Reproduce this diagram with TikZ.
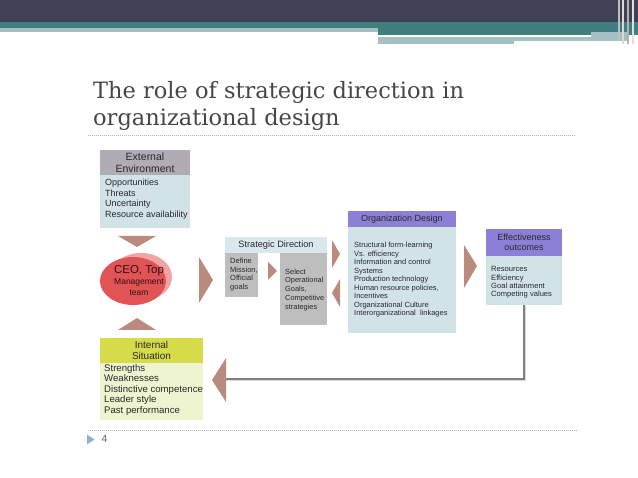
\documentclass[tikz,border=0pt]{standalone}
\usepackage{fontspec}
\setmainfont{Liberation Sans}
\newfontfamily\titlefont{DejaVu Serif}
\definecolor{topdark}{RGB}{64,65,84}
\definecolor{tealc}{RGB}{65,126,128}
\definecolor{lteal}{RGB}{165,192,195}
\definecolor{arrowc}{RGB}{185,138,125}
\definecolor{envhead}{RGB}{176,172,180}
\definecolor{ltblue}{RGB}{210,227,232}
\definecolor{inthead}{RGB}{214,219,74}
\definecolor{intbody}{RGB}{238,243,208}
\definecolor{sdhead}{RGB}{218,232,238}
\definecolor{sdgray}{RGB}{190,190,190}
\definecolor{purp}{RGB}{140,128,214}
\definecolor{ceodark}{RGB}{224,84,86}
\definecolor{ceolight}{RGB}{242,163,163}
\definecolor{titlec}{RGB}{70,70,70}
\definecolor{linec}{RGB}{128,128,128}
\definecolor{txtc}{RGB}{40,40,40}
\definecolor{markc}{RGB}{143,179,207}
\begin{document}
\begin{tikzpicture}[x=1pt,y=-1pt,
  panel/.style={inner sep=0pt, outer sep=0pt, anchor=north west, draw=none},
  bodytxt/.style={inner sep=0pt, anchor=north west, align=left, text=txtc},
  hdrtxt/.style={inner sep=0pt, align=center, text=txtc},
  arrowshape/.style={fill=arrowc, draw=none},
  fbline/.style={draw=linec, line width=1.6pt},
  titletxt/.style={inner sep=0pt, anchor=base west, text=titlec, font=\titlefont\fontsize{22.5}{27}\selectfont},
  sepline/.style={draw=black!30, line width=0.6pt, dash pattern=on 0.8pt off 1.2pt}]
\useasboundingbox (0,0) rectangle (638,478);
% top band
\fill[white] (0,0) rectangle (638,478);
\fill[topdark] (0,0) rectangle (638,22);
\fill[tealc] (0,22) rectangle (638,28.5);
\fill[lteal] (0,28.5) rectangle (378,32);
\fill[tealc] (378,28.5) rectangle (638,35);
\fill[lteal] (378,37.5) rectangle (591,41);
\fill[lteal] (378,41) rectangle (514,44.5);
\fill[lteal] (591,32) rectangle (627,41.5);
\fill[black!25] (618,0) rectangle (619.5,41.5);
\fill[black!15] (622,0) rectangle (623.5,44.5);
\fill[black!30] (627,0) rectangle (628.5,44.5);
\fill[black!12] (632,0) rectangle (634,44.5);
% title
\node[titletxt] (title1) at (93,99) {The role of strategic direction in};
\node[titletxt] (title2) at (93,126) {organizational design};
\draw[sepline] (88,135) -- (576,135);
% External environment
\node[panel, fill=envhead, minimum width=90pt, minimum height=25pt] (envh) at (100,150) {};
\node[panel, fill=ltblue, minimum width=90pt, minimum height=53pt] (envb) at (100,175) {};
\node[hdrtxt, font=\fontsize{10.5}{11.5}\selectfont] (envht) at (envh.center) {External\\Environment};
\node[bodytxt, font=\fontsize{9}{10.6}\selectfont] (envbt) at (105,179) {Opportunities\\Threats\\Uncertainty\\Resource availability};
% down / up triangles
\fill[arrowshape] (118,236) -- (156,236) -- (137,247) -- cycle;
\fill[arrowshape] (118,330) -- (156,330) -- (137,318) -- cycle;
% CEO ellipses
\fill[ceolight] (141,277) ellipse [x radius=31, y radius=24];
\fill[ceodark] (133,281) ellipse [x radius=33, y radius=24];
\node[inner sep=0pt, align=center, text={rgb,255:red,50;green,15;blue,15}] (ceo) at (139,281)
  {{\fontsize{11.5}{12}\selectfont CEO, Top}\\[-1pt]{\fontsize{8.5}{9}\selectfont Management}\\[-1pt]{\fontsize{8.5}{9}\selectfont team}};
% Internal situation
\node[panel, fill=inthead, minimum width=103pt, minimum height=25pt] (inth) at (100,338) {};
\node[panel, fill=intbody, minimum width=103pt, minimum height=57pt] (intb) at (100,363) {};
\node[hdrtxt, font=\fontsize{10}{11.5}\selectfont] (intht) at (inth.center) {Internal\\Situation};
\node[bodytxt, font=\fontsize{9.6}{10.5}\selectfont] (intbt) at (104,364) {Strengths\\Weaknesses\\Distinctive competence\\Leader style\\Past performance};
% big right arrow
\fill[arrowshape] (199,257) -- (213,280) -- (199,303) -- cycle;
% Strategic direction
\node[panel, fill=sdhead, minimum width=102pt, minimum height=16pt] (sdh) at (225,237) {};
\node[hdrtxt, font=\fontsize{9.2}{10}\selectfont] (sdht) at (sdh.center) {Strategic Direction};
\node[panel, fill=sdgray, minimum width=33pt, minimum height=44pt] (sdl) at (225,253) {};
\node[panel, fill=sdgray, minimum width=47pt, minimum height=72pt] (sdr) at (280,253) {};
\node[bodytxt, font=\fontsize{7.5}{8.6}\selectfont] (sdlt) at (230,258) {Define\\Mission,\\Official\\goals};
\node[bodytxt, font=\fontsize{7.4}{8.9}\selectfont] (sdrt) at (285,268.5) {Select\\Operational\\Goals,\\Competitive\\strategies};
\fill[arrowshape] (268,262) -- (277,271) -- (268,280) -- cycle;
% arrows between SD and OD
\fill[arrowshape] (332,240) -- (340,254) -- (332,268) -- cycle;
\fill[arrowshape] (340,279) -- (332,293) -- (340,307) -- cycle;
% Organization design
\node[panel, fill=purp, minimum width=108pt, minimum height=16pt] (odh) at (348,211) {};
\node[hdrtxt, font=\fontsize{9}{10}\selectfont] (odht) at (odh.center) {Organization Design};
\node[panel, fill=ltblue, minimum width=108pt, minimum height=106pt] (odb) at (348,227) {};
\node[bodytxt, font=\fontsize{7.5}{8.5}\selectfont] (odbt) at (354,242) {Structural form-learning\\Vs. efficiency\\Information and control\\Systems\\Production technology\\Human resource policies,\\Incentives\\Organizational Culture\\Interorganizational\ \ linkages};
% arrow OD -> EO
\fill[arrowshape] (464,245) -- (477,266) -- (464,288) -- cycle;
% Effectiveness outcomes
\node[panel, fill=purp, minimum width=76pt, minimum height=27pt] (eoh) at (486,229) {};
\node[hdrtxt, font=\fontsize{9}{10.5}\selectfont] (eoht) at (eoh.center) {Effectiveness\\outcomes};
\node[panel, fill=ltblue, minimum width=76pt, minimum height=49pt] (eob) at (486,256) {};
\node[bodytxt, font=\fontsize{7.6}{8.2}\selectfont] (eobt) at (491,266.5) {Resources\\Efficiency\\Goal attainment\\Competing values};
% feedback connector
\coordinate (fbend) at (225,379);
\draw[draw=black!15, line width=1.6pt] ([shift={(1.2,1.2)}]eob.south) |- ([shift={(0,1.2)}]fbend);
\draw[fbline] (eob.south) |- (fbend);
\fill[arrowshape] (226,358) -- (212,380) -- (226,402) -- cycle;
% footer
\draw[sepline] (88,430) -- (578,430);
\fill[markc] (87,434.5) -- (94.5,439.5) -- (87,444.5) -- cycle;
\node[inner sep=0pt, text=black!60, font=\fontsize{10.5}{12}\selectfont] (pnum) at (104.5,439) {4};
\end{tikzpicture}
\end{document}
